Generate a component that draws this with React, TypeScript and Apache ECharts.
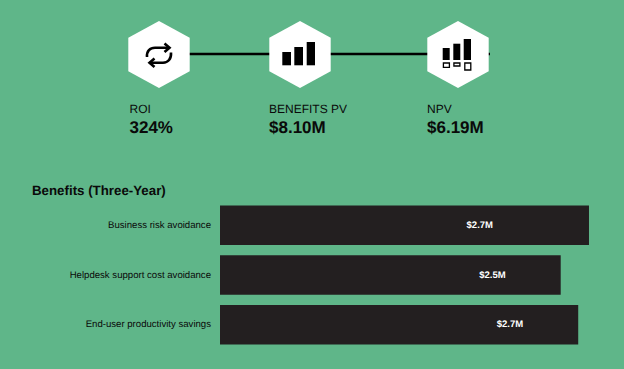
import React, { useEffect, useRef } from "react";
import * as echarts from "echarts";

const categories = ["Business risk avoidance", "Helpdesk support cost avoidance", "End-user productivity savings"];
const benefitValues = [2.74, 2.53, 2.66];
const labelDistances = [96, 55, 55];
const kpiLabels = ["ROI", "BENEFITS PV", "NPV"];
const kpiValues = ["324%", "$8.10M", "$6.19M"];
const title = "Benefits (Three-Year)";

const BG = "#5fb689";
const DARK = "#231f20";
const FONT = "'Liberation Sans', Arial, sans-serif";

const hexagon = (cx: number, cy: number) => ({
  type: "polygon",
  shape: {
    points: [
      [cx, cy - 33.5], [cx + 30.7, cy - 16.7], [cx + 30.7, cy + 16.7],
      [cx, cy + 33.5], [cx - 30.7, cy + 16.7], [cx - 30.7, cy - 16.7],
    ],
  },
  style: { fill: "#ffffff" },
});

const box = (x: number, y: number, width: number, height: number) => ({
  type: "rect",
  shape: { x, y, width, height },
  style: { fill: "#000000" },
});

const frame = (x: number, y: number, width: number, height: number) => ({
  type: "rect",
  shape: { x, y, width, height },
  style: { fill: "none", stroke: "#000000", lineWidth: 1.3 },
});

const arrows = [
  "M147 57 C146.5 51 150 47.7 155 47.7 L169 47.7",
  "M164.5 43.5 L169.5 47.7 L164.5 52",
  "M171 52.5 C171.5 59 168 62.7 163 62.7 L149.5 62.7",
  "M154.5 58.5 L149.5 62.7 L154.5 67",
];

const stroke = (d: string, i: number) => {
  const name = "arrow" + i;
  echarts.graphic.registerShape(name, echarts.graphic.extendPath(d, {}) as any);
  return { type: name, x: 0, y: 0, style: { fill: "none", stroke: "#000000", lineWidth: 2.6 } };
};

const App = () => {
  const ref = useRef<HTMLDivElement>(null);
  useEffect(() => {
    document.body.style.margin = "0";
    const chart = echarts.init(ref.current!, null, { renderer: "svg" });
    const kpiX = [129.5, 269, 427];
    chart.setOption({
      animation: false,
      backgroundColor: BG,
      textStyle: { fontFamily: FONT },
      grid: { left: 220, top: 200.5, width: 404, height: 149 },
      xAxis: { type: "value", min: 0, max: 3, show: false },
      yAxis: {
        type: "category",
        inverse: true,
        data: categories,
        axisLine: { show: false },
        axisTick: { show: false },
        axisLabel: { margin: 9, fontSize: 9.6, color: "#0a0a0a", fontFamily: FONT },
      },
      series: [{
        type: "bar",
        barWidth: 39.5,
        data: benefitValues.map((value, i) => ({
          value,
          label: { show: true, position: "insideRight", distance: labelDistances[i] },
        })),
        itemStyle: { color: DARK },
        label: {
          formatter: (p: any) => "$" + p.value.toFixed(1) + "M",
          color: "#ffffff", fontWeight: "bold", fontSize: 9.5, fontFamily: FONT,
        },
      }],
      graphic: [
        { type: "line", shape: { x1: 189, y1: 54, x2: 490, y2: 54 }, style: { stroke: "#000000", lineWidth: 2.5 } },
        hexagon(159, 54.5), hexagon(300, 54.5), hexagon(458, 54.5),
        ...arrows.map(stroke),
        box(282.3, 52, 8.7, 13.3), box(294.3, 47, 8.7, 18.3), box(306.7, 42, 8.3, 23.3),
        box(442.7, 48, 7, 12), box(453.3, 43.7, 7, 16.3), box(463.7, 39, 7.3, 21),
        frame(443.4, 63, 6, 4.3), frame(453.9, 63, 6, 3), frame(464.8, 63, 6, 7),
        ...kpiLabels.map((text, i) => ({
          type: "text", x: kpiX[i], y: 103,
          style: { text, fill: "#0a0a0a", font: "12px " + FONT },
        })),
        ...kpiValues.map((text, i) => ({
          type: "text", x: kpiX[i], y: 119,
          style: { text, fill: "#0a0a0a", font: "bold 17px " + FONT },
        })),
        { type: "text", x: 32, y: 184, style: { text: title, fill: "#0a0a0a", font: "bold 13.3px " + FONT } },
      ],
    });
    return () => chart.dispose();
  }, []);
  return <div ref={ref} style={{ width: 624, height: 369, textRendering: "geometricPrecision" }} />;
};

export default App;
